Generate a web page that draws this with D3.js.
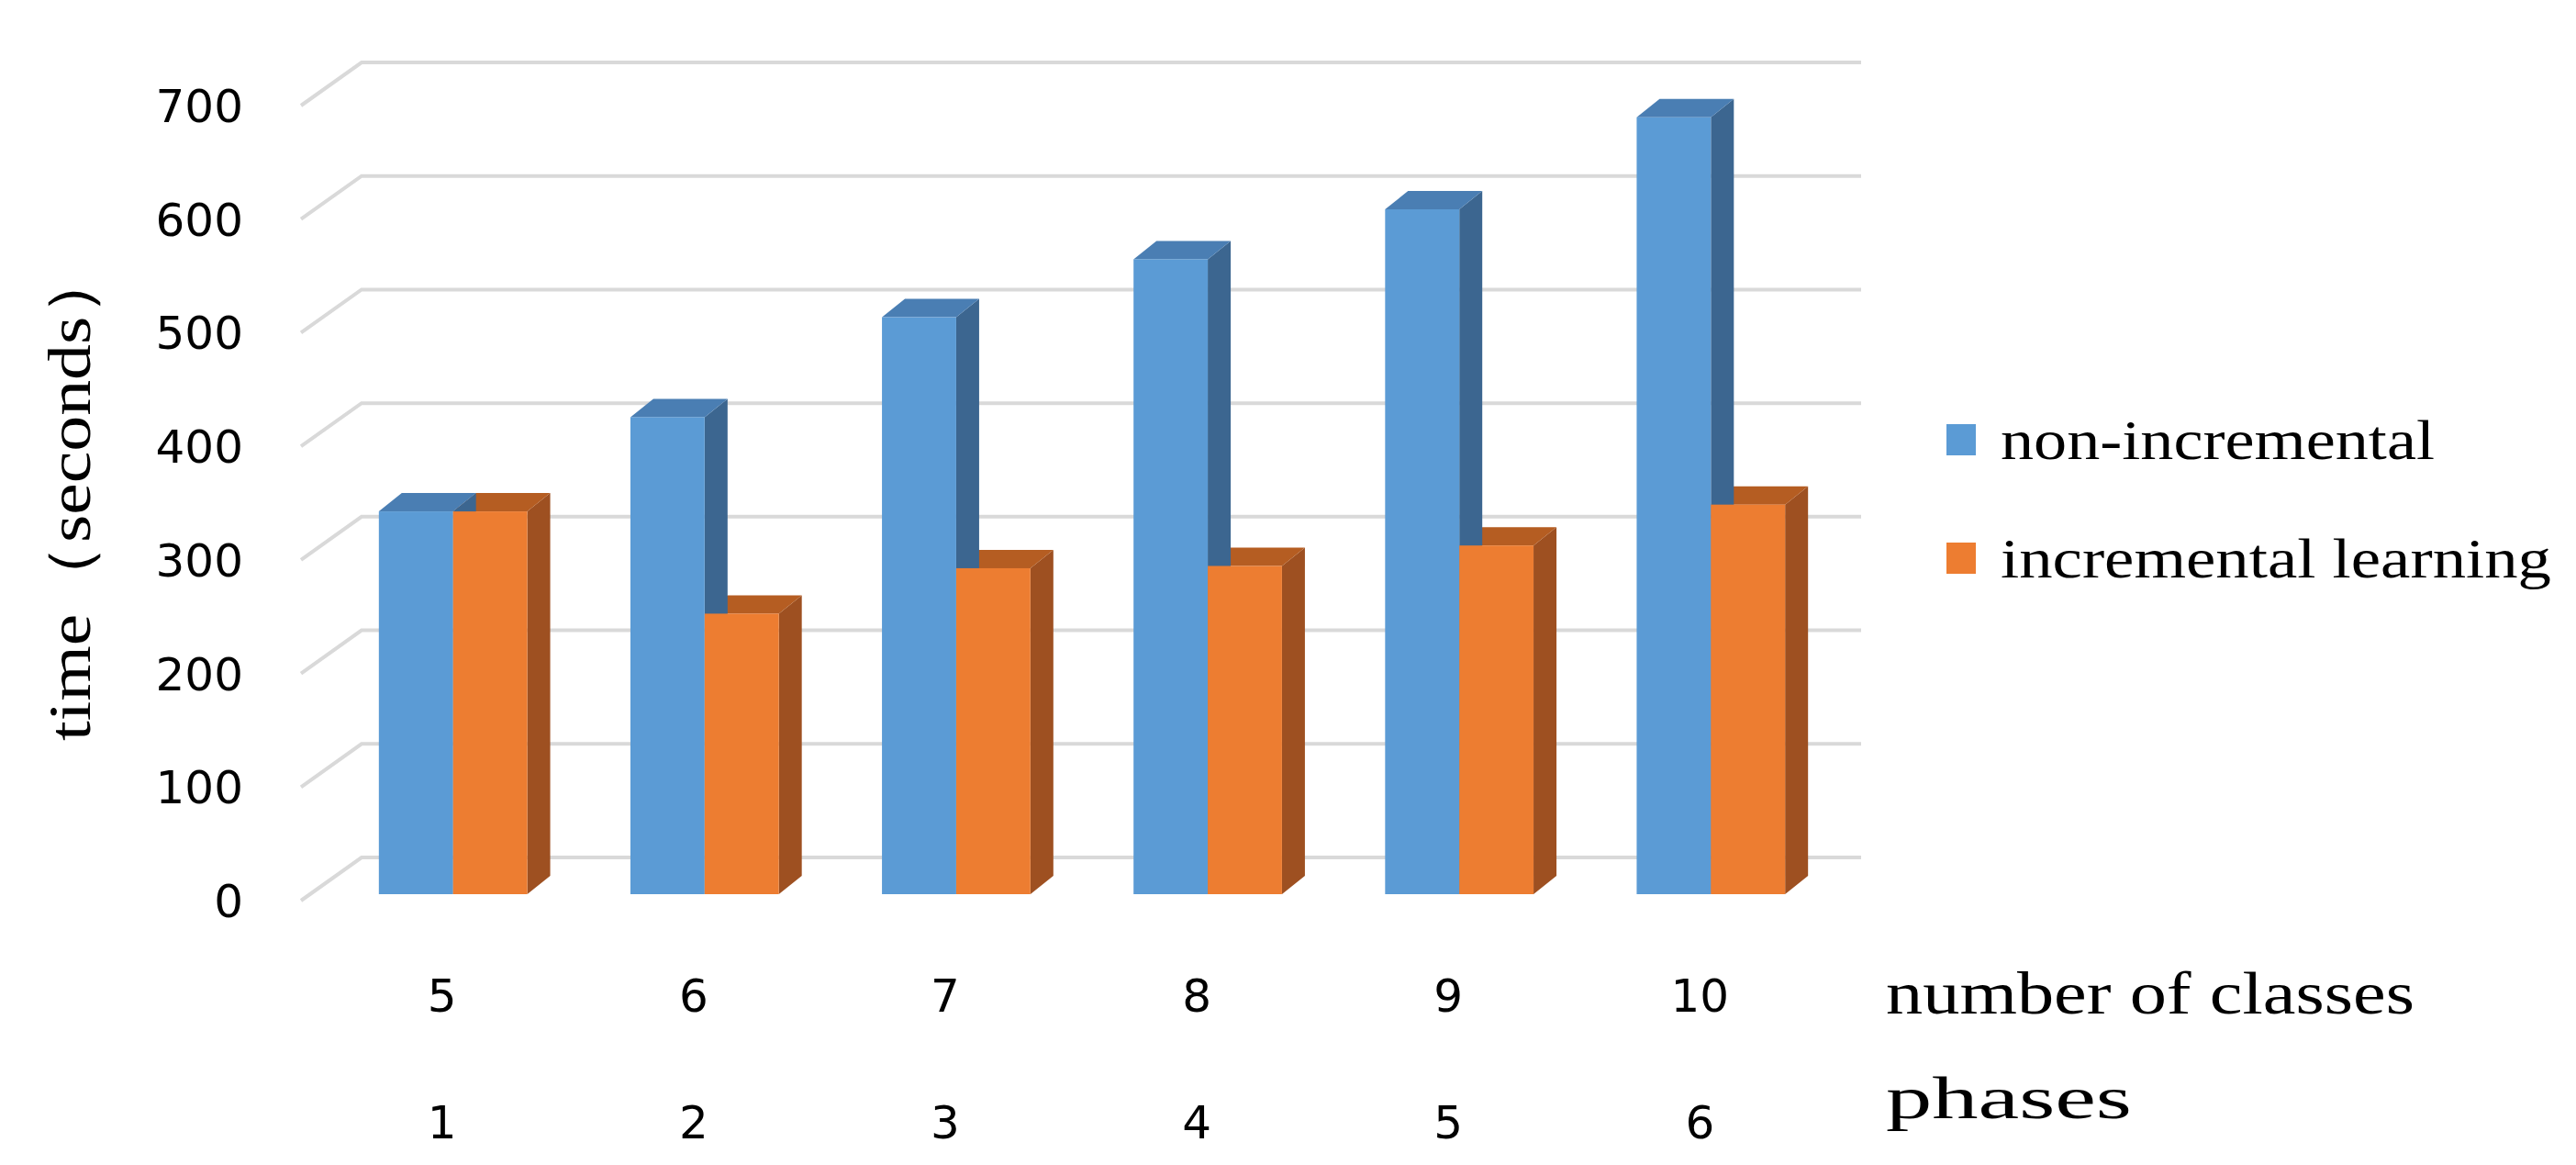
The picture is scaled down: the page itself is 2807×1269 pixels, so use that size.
<!DOCTYPE html>
<html><head><meta charset="utf-8">
<script src="https://cdn.jsdelivr.net/npm/d3@7"></script>
<style>body{margin:0;background:#fff}</style></head>
<body><svg id="c" width="2807" height="1269"></svg>
<script>
const classes = ["5","6","7","8","9","10"];
const phases = ["1","2","3","4","5","6"];
const nonIncremental = [337,420,508,559,603,684];
const incremental = [337,247,287,289,307,343];
const yTicks = [0,100,200,300,400,500,600,700];

const svg = d3.select("#c");
const y = d3.scaleLinear().domain([0,700]).range([974,108]);
const x = d3.scaleBand().domain(classes).range([358,2000]).paddingInner(0.41).paddingOuter(0.2);
const sub = d3.scaleBand().domain(["a","b"]).range([0,x.bandwidth()]);
const DX=25, DY=-20, BACK=-40;

// gridlines
yTicks.forEach(v=>{
  const yb=y(v)+BACK;
  svg.append("path").attr("d",`M328,${yb+47}L394,${yb}L2028,${yb}`)
    .attr("fill","none").attr("stroke","#d9d9d9").attr("stroke-width",4);
  svg.append("text").attr("x",265).attr("y",yb+65).attr("text-anchor","end")
    .attr("font-family","DejaVu Sans").attr("font-size",50).attr("fill","#000").text(v);
});

const series=[{vals:nonIncremental,key:"a",front:"#5B9BD5",side:"#3C6690",top:"#4A7EB3"},
              {vals:incremental,key:"b",front:"#ED7D31",side:"#9E5021",top:"#B55D22"}];
classes.forEach((c,i)=>{
  series.slice().reverse().forEach(s=>{
    const x0=x(c)+sub(s.key), w=sub.bandwidth(), y0=y(0), y1=y(s.vals[i]);
    const g=svg.append("g");
    g.append("path").attr("d",`M${x0+w},${y1}L${x0+w+DX},${y1+DY}L${x0+w+DX},${y0+DY}L${x0+w},${y0}Z`).attr("fill",s.side);
    g.append("path").attr("d",`M${x0},${y1}L${x0+DX},${y1+DY}L${x0+w+DX},${y1+DY}L${x0+w},${y1}Z`).attr("fill",s.top);
  });
  series.forEach(s=>{
    const x0=x(c)+sub(s.key), w=sub.bandwidth();
    svg.append("rect").attr("x",x0).attr("y",y(s.vals[i])).attr("width",w).attr("height",y(0)-y(s.vals[i])).attr("fill",s.front);
  });
  const cx=x(c)+x.bandwidth()/2-12;
  svg.append("text").attr("x",cx).attr("y",1102).attr("text-anchor","middle").attr("font-family","DejaVu Sans").attr("font-size",50).text(c);
  svg.append("text").attr("x",cx).attr("y",1240).attr("text-anchor","middle").attr("font-family","DejaVu Sans").attr("font-size",50).text(phases[i]);
});

const serif="Liberation Serif";
svg.append("text").attr("x",2055).attr("y",1104).attr("font-family",serif).attr("font-size",66).attr("textLength",576).attr("lengthAdjust","spacingAndGlyphs").text("number of classes");
svg.append("text").attr("x",2055).attr("y",1218).attr("font-family",serif).attr("font-size",66).attr("textLength",268).attr("lengthAdjust","spacingAndGlyphs").text("phases");
svg.append("text").attr("transform","translate(98,537) rotate(-90)").attr("text-anchor","middle").attr("font-family",serif).attr("font-size",66).attr("textLength",540).attr("lengthAdjust","spacingAndGlyphs").text("time（seconds）");

const legend=[["non-incremental","#5B9BD5",479,473],["incremental_learning".replace("_"," "),"#ED7D31",608,600]];
legend.forEach(([t,c,cy,len])=>{
  svg.append("rect").attr("x",2121).attr("y",cy-17).attr("width",32).attr("height",34).attr("fill",c);
  svg.append("text").attr("x",2180).attr("y",cy+21).attr("font-family",serif).attr("font-size",62).attr("textLength",len).attr("lengthAdjust","spacingAndGlyphs").text(t);
});
</script></body></html>
